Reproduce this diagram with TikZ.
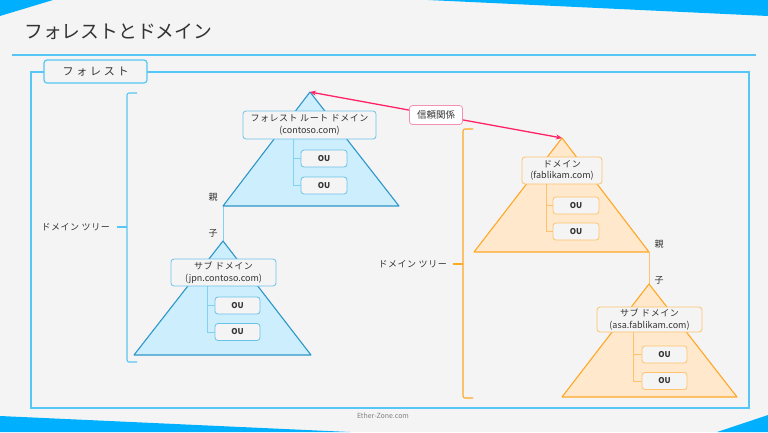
\documentclass[tikz,border=0pt]{standalone}
\usepackage{fontspec}
\setmainfont{Noto Sans CJK JP}
\newfontfamily\jpw{Noto Sans CJK JP}[LetterSpace=6]
\newfontfamily\jptab{Noto Sans CJK JP}[LetterSpace=25]
\usetikzlibrary{arrows.meta}
\definecolor{bgc}{HTML}{F4F4F4}
\definecolor{accent}{HTML}{00B0FF}
\definecolor{framec}{HTML}{55C6F5}
\definecolor{bluefill}{HTML}{CDEEFC}
\definecolor{blueline}{HTML}{2E96C9}
\definecolor{boxblue}{HTML}{6CC2E8}
\definecolor{treeblue}{HTML}{7FD2F6}
\definecolor{orangec}{HTML}{FFA726}
\definecolor{orangefill}{HTML}{FFE8CC}
\definecolor{orangebox}{HTML}{FFC46B}
\definecolor{pinkc}{HTML}{FF2366}
\definecolor{pinkbox}{HTML}{F490B4}
\definecolor{txt}{HTML}{333333}
\tikzset{
  domA/.style={draw=boxblue, fill=bgc, rounded corners=3pt, line width=0.8pt, align=center,
    font=\fontsize{9}{11.5}\selectfont, text=txt, inner sep=0pt},
  domB/.style={domA, draw=orangebox},
  ouA/.style={draw=boxblue, fill=bgc, rounded corners=3pt, line width=0.8pt,
    font=\fontsize{8}{9}\selectfont\bfseries, text=txt, minimum width=46pt, minimum height=17pt, inner sep=0pt},
  ouB/.style={ouA, draw=orangebox},
  triA/.style={fill=bluefill, draw=blueline, line width=1.1pt, line join=round},
  triB/.style={fill=orangefill, draw=orangec, line width=1.1pt, line join=round},
  treeA/.style={draw=treeblue, line width=0.9pt},
  treeB/.style={draw=orangebox, line width=0.9pt},
  pcA/.style={draw=treeblue, line width=1pt},
  pcB/.style={draw=orangebox, line width=1pt},
  rel/.style={font=\fontsize{9}{10}\selectfont, text=txt, inner sep=0pt},
  bracketA/.style={draw=framec, line width=1.1pt, rounded corners=2pt},
  bracketB/.style={draw=orangec, line width=1.1pt, rounded corners=2pt},
  brlabel/.style={font=\jpw\fontsize{9}{10}\selectfont, text=txt, inner sep=0pt, anchor=east},
}
\begin{document}
\begin{tikzpicture}[x=1pt,y=-1pt]
\fill[bgc] (0,0) rectangle (768,432);
\useasboundingbox (0,0) rectangle (768,432);
% decorations
\fill[accent] (0,0) -- (53,0) -- (0,16) -- cycle;
\fill[accent] (428,0) -- (768,0) -- (768,16) -- cycle;
\fill[accent] (0,416) -- (350,432) -- (0,432) -- cycle;
\fill[accent] (717,432) -- (768,415) -- (768,432) -- cycle;
% title
\node[anchor=west, font=\fontsize{18.8}{20}\selectfont, text=txt, inner sep=0pt] (title) at (24,32) {フォレストとドメイン};
\draw[framec, line width=1.2pt] (12,55) -- (756,55);
% forest frame
\draw[framec, line width=1.5pt] (31,72) rectangle (749,408);
\node[draw=framec, fill=bgc, line width=1.2pt, rounded corners=3pt, minimum width=103pt, minimum height=23pt,
  font=\jptab\fontsize{11}{12}\selectfont, text=txt, inner sep=0pt] (forestlabel) at (95.5,71.5) {フォレスト};
% left bracket
\draw[bracketA] (137,93) -- (127,93) -- (127,362) -- (137,362);
\coordinate (brA) at (127,227);
\coordinate (brAt) at (117,227);
\draw[framec, line width=1.1pt] (brAt) -- (brA);
\node[brlabel] (treeLabelA) at (110,227) {ドメイン ツリー};
% right bracket
\draw[bracketB] (473,129) -- (463,129) -- (463,398) -- (473,398);
\coordinate (brB) at (463,264);
\coordinate (brBt) at (453,264);
\draw[orangec, line width=1.1pt] (brBt) -- (brB);
\node[brlabel] (treeLabelB) at (447,264) {ドメイン ツリー};
% triangles
\coordinate (A1) at (310,92); \coordinate (L1) at (223,206); \coordinate (R1) at (399,206);
\coordinate (A2) at (223,241); \coordinate (L2) at (134,355); \coordinate (R2) at (311,355);
\coordinate (A3) at (562,138); \coordinate (L3) at (474,252); \coordinate (R3) at (649,252);
\coordinate (A4) at (649,284); \coordinate (L4) at (562,397); \coordinate (R4) at (737,397);
\draw[pcA] (L1) -- (A2);
\draw[pcB] (R3) -- (A4);
\filldraw[triA] (A1) -- (L1) -- (R1) -- cycle;
\filldraw[triA] (A2) -- (L2) -- (R2) -- cycle;
\filldraw[triB] (A3) -- (L3) -- (R3) -- cycle;
\filldraw[triB] (A4) -- (L4) -- (R4) -- cycle;
% parent / child labels
\node[rel] (p1) at (213,197) {親};
\node[rel] (c1) at (213,233) {子};
\node[rel] (p2) at (659,244) {親};
\node[rel] (c2) at (659,280) {子};
% domain boxes
\node[domA, minimum width=133pt, minimum height=28pt] (root) at (309.5,125) {{\jpw フォレスト ルート ドメイン}\\(contoso.com)};
\node[ouA] (ou1a) at (324,158.5) {OU};
\node[ouA] (ou1b) at (324,185.5) {OU};
\draw[treeA] ([xshift=-16.5pt]root.south) |- (ou1a.west);
\draw[treeA] ([xshift=-16.5pt]root.south) |- (ou1b.west);

\node[domA, minimum width=105pt, minimum height=27pt] (sub1) at (223.5,272.5) {{\jpw サブ ドメイン}\\(jpn.contoso.com)};
\node[ouA, minimum width=45pt] (ou2a) at (237.5,305.5) {OU};
\node[ouA, minimum width=45pt] (ou2b) at (237.5,332) {OU};
\draw[treeA] ([xshift=-16.5pt]sub1.south) |- (ou2a.west);
\draw[treeA] ([xshift=-16.5pt]sub1.south) |- (ou2b.west);

\node[domB, minimum width=80pt, minimum height=27pt] (dom2) at (562,170.5) {{\jpw ドメイン}\\(fablikam.com)};
\node[ouB] (ou3a) at (576,205.5) {OU};
\node[ouB] (ou3b) at (576,231.5) {OU};
\draw[treeB] ([xshift=-16pt]dom2.south) |- (ou3a.west);
\draw[treeB] ([xshift=-16pt]dom2.south) |- (ou3b.west);

\node[domB, minimum width=105pt, minimum height=25pt] (sub2) at (649.5,319.5) {{\jpw サブ ドメイン}\\(asa.fablikam.com)};
\node[ouB, minimum width=45pt] (ou4a) at (664.5,354.5) {OU};
\node[ouB, minimum width=45pt] (ou4b) at (664.5,381) {OU};
\draw[treeB] ([xshift=-16.5pt]sub2.south) |- (ou4a.west);
\draw[treeB] ([xshift=-16.5pt]sub2.south) |- (ou4b.west);
% trust relation
\draw[pinkc, line width=1.3pt, {Stealth[length=6pt,width=5pt]}-{Stealth[length=6pt,width=5pt]}]
  (A1) -- node[draw=pinkbox, fill=white, line width=0.8pt, rounded corners=3pt, minimum width=53pt, minimum height=19pt,
  font=\fontsize{9.5}{10}\selectfont, text=txt, inner sep=0pt] (trust) {信頼関係} (A3);
% footer
\node[font=\fontsize{7}{8}\selectfont, text=gray, inner sep=0pt] (footer) at (383,416) {Ether-Zone.com};
\end{tikzpicture}
\end{document}
